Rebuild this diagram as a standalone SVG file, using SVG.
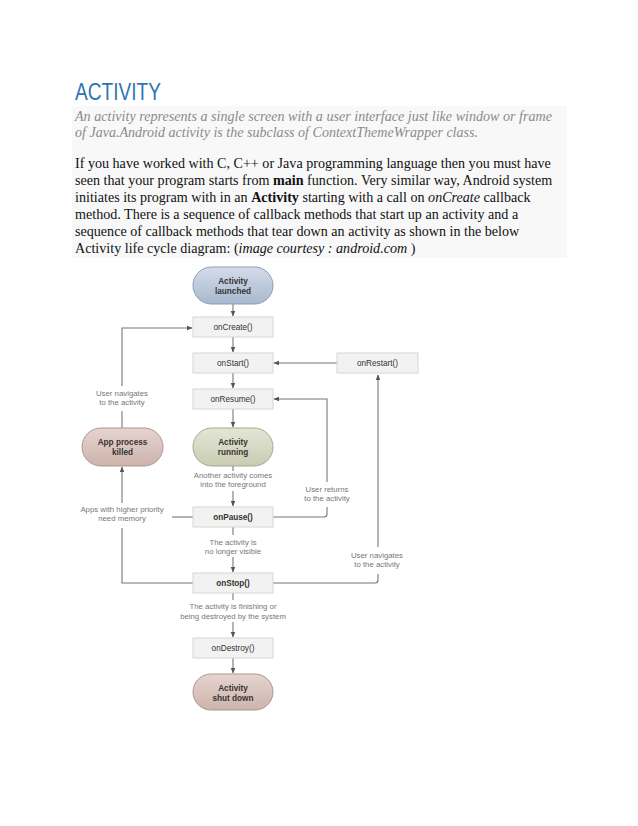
<svg xmlns="http://www.w3.org/2000/svg" width="638" height="826" viewBox="0 0 638 826">
<defs>
<style>
.title{font-family:"Liberation Sans",Arial,sans-serif;font-size:23px;fill:#2e74b5}
.it{font-family:"Liberation Serif","Times New Roman",serif;font-size:14px;font-style:italic;fill:#8a8a8a}
.body{font-family:"Liberation Serif","Times New Roman",serif;font-size:14.1px;fill:#111}
.box{fill:#f2f2f2;stroke:#d6d6d6;stroke-width:1}
.bt{font-family:"Liberation Sans",Arial,sans-serif;font-size:8.2px;fill:#333;text-anchor:middle}
.bb{font-family:"Liberation Sans",Arial,sans-serif;font-size:8.2px;font-weight:bold;fill:#333;text-anchor:middle}
.lbl{font-family:"Liberation Sans",Arial,sans-serif;font-size:7.8px;fill:#777;text-anchor:middle}
.ln{fill:none;stroke:#777;stroke-width:1.1}
</style>
<marker id="ah" viewBox="0 0 10 10" refX="9" refY="5" markerWidth="6" markerHeight="6" orient="auto" markerUnits="userSpaceOnUse">
<path d="M0,1 L10,5 L0,9 z" fill="#555"/>
</marker>
<linearGradient id="gBlue" x1="0" y1="0" x2="0" y2="1"><stop offset="0" stop-color="#d3dcea"/><stop offset="1" stop-color="#a9b8cf"/></linearGradient>
<linearGradient id="gGreen" x1="0" y1="0" x2="0" y2="1"><stop offset="0" stop-color="#e4e6d6"/><stop offset="1" stop-color="#c9ccb2"/></linearGradient>
<linearGradient id="gRed" x1="0" y1="0" x2="0" y2="1"><stop offset="0" stop-color="#e6d4cf"/><stop offset="1" stop-color="#cdb3ab"/></linearGradient>
</defs>
<rect width="638" height="826" fill="#ffffff"/>
<rect x="72" y="106" width="495" height="152" fill="#f8f8f8"/>
<text class="title" x="75" y="100" textLength="86" lengthAdjust="spacingAndGlyphs">ACTIVITY</text>
<text class="it" x="75" y="121" textLength="477" lengthAdjust="spacingAndGlyphs">An activity represents a single screen with a user interface just like window or frame</text>
<text class="it" x="75" y="137" textLength="403" lengthAdjust="spacingAndGlyphs">of Java.Android activity is the subclass of ContextThemeWrapper class.</text>
<text class="body" x="75" y="168">If you have worked with C, C++ or Java programming language then you must have</text>
<text class="body" x="75" y="185">seen that your program starts from <tspan font-weight="bold">main</tspan> function. Very similar way, Android system</text>
<text class="body" x="75" y="202">initiates its program with in an <tspan font-weight="bold">Activity</tspan> starting with a call on <tspan font-style="italic">onCreate</tspan> callback</text>
<text class="body" x="75" y="219">method. There is a sequence of callback methods that start up an activity and a</text>
<text class="body" x="75" y="236">sequence of callback methods that tear down an activity as shown in the below</text>
<text class="body" x="75" y="253">Activity life cycle diagram: (<tspan font-style="italic">image courtesy : android.com</tspan> )</text>

<g id="connectors">
<line class="ln" x1="233" y1="304" x2="233" y2="316" marker-end="url(#ah)"/>
<line class="ln" x1="233" y1="337" x2="233" y2="352" marker-end="url(#ah)"/>
<line class="ln" x1="233" y1="373" x2="233" y2="388" marker-end="url(#ah)"/>
<line class="ln" x1="233" y1="409" x2="233" y2="427" marker-end="url(#ah)"/>
<line class="ln" x1="233" y1="466" x2="233" y2="471"/>
<line class="ln" x1="233" y1="491" x2="233" y2="506" marker-end="url(#ah)"/>
<line class="ln" x1="233" y1="527" x2="233" y2="535"/>
<line class="ln" x1="233" y1="557" x2="233" y2="572" marker-end="url(#ah)"/>
<line class="ln" x1="233" y1="593" x2="233" y2="600"/>
<line class="ln" x1="233" y1="622" x2="233" y2="637" marker-end="url(#ah)"/>
<line class="ln" x1="233" y1="658" x2="233" y2="673" marker-end="url(#ah)"/>
<polyline class="ln" points="122,428 122,411"/>
<polyline class="ln" points="122,386 122,328 192,328" marker-end="url(#ah)"/>
<polyline class="ln" points="193,583 122,583 122,528"/>
<line class="ln" x1="122" y1="503" x2="122" y2="467" marker-end="url(#ah)"/>
<line class="ln" x1="172" y1="517" x2="193" y2="517"/>
<path class="ln" d="M273,517 H324 Q327,517 327,514 V507"/>
<polyline class="ln" points="327,482 327,399 274,399" marker-end="url(#ah)"/>
<line class="ln" x1="337" y1="363" x2="274" y2="363" marker-end="url(#ah)"/>
<path class="ln" d="M273,583 H375 Q378,583 378,580 V574"/>
<line class="ln" x1="378" y1="547" x2="378" y2="375" marker-end="url(#ah)"/>
</g>

<g id="lbl-userNav1"><text class="lbl" x="122" y="396">User navigates</text><text class="lbl" x="122" y="405">to the activity</text></g>
<g id="lbl-another"><text class="lbl" x="233" y="478">Another activity comes</text><text class="lbl" x="233" y="487">into the foreground</text></g>
<g id="lbl-apps"><text class="lbl" x="122" y="512">Apps with higher priority</text><text class="lbl" x="122" y="521">need memory</text></g>
<g id="lbl-returns"><text class="lbl" x="327" y="492">User returns</text><text class="lbl" x="327" y="501">to the activity</text></g>
<g id="lbl-novisible"><text class="lbl" x="233" y="545">The activity is</text><text class="lbl" x="233" y="554">no longer visible</text></g>
<g id="lbl-userNav2"><text class="lbl" x="377" y="558">User navigates</text><text class="lbl" x="377" y="567">to the activity</text></g>
<g id="lbl-finishing"><text class="lbl" x="233" y="609">The activity is finishing or</text><text class="lbl" x="233" y="619">being destroyed by the system</text></g>

<g id="launched"><rect x="193" y="267" width="80" height="37" rx="18.5" fill="url(#gBlue)" stroke="#8d9cb5"/><text class="bb" x="233" y="284">Activity</text><text class="bb" x="233" y="294">launched</text></g>
<g id="onCreate"><rect class="box" x="193" y="317" width="80" height="20"/><text class="bt" x="233" y="330">onCreate()</text></g>
<g id="onStart"><rect class="box" x="193" y="353" width="80" height="20"/><text class="bt" x="233" y="366">onStart()</text></g>
<g id="onRestart"><rect class="box" x="337" y="353" width="81" height="20"/><text class="bt" x="377.5" y="366">onRestart()</text></g>
<g id="onResume"><rect class="box" x="193" y="389" width="80" height="20"/><text class="bt" x="233" y="402">onResume()</text></g>
<g id="running"><rect x="193" y="428" width="80" height="38" rx="19" fill="url(#gGreen)" stroke="#a6a98e"/><text class="bb" x="233" y="445">Activity</text><text class="bb" x="233" y="455">running</text></g>
<g id="killed"><rect x="82" y="428" width="81" height="38" rx="19" fill="url(#gRed)" stroke="#ad9790"/><text class="bb" x="122.5" y="445">App process</text><text class="bb" x="122.5" y="455">killed</text></g>
<g id="onPause"><rect class="box" x="193" y="507" width="80" height="20"/><text class="bb" x="233" y="520">onPause()</text></g>
<g id="onStop"><rect class="box" x="193" y="573" width="80" height="20"/><text class="bb" x="233" y="586">onStop()</text></g>
<g id="onDestroy"><rect class="box" x="193" y="638" width="80" height="20"/><text class="bt" x="233" y="651">onDestroy()</text></g>
<g id="shutdown"><rect x="193" y="674" width="80" height="36" rx="18" fill="url(#gRed)" stroke="#ad9790"/><text class="bb" x="233" y="691">Activity</text><text class="bb" x="233" y="701">shut down</text></g>
</svg>
